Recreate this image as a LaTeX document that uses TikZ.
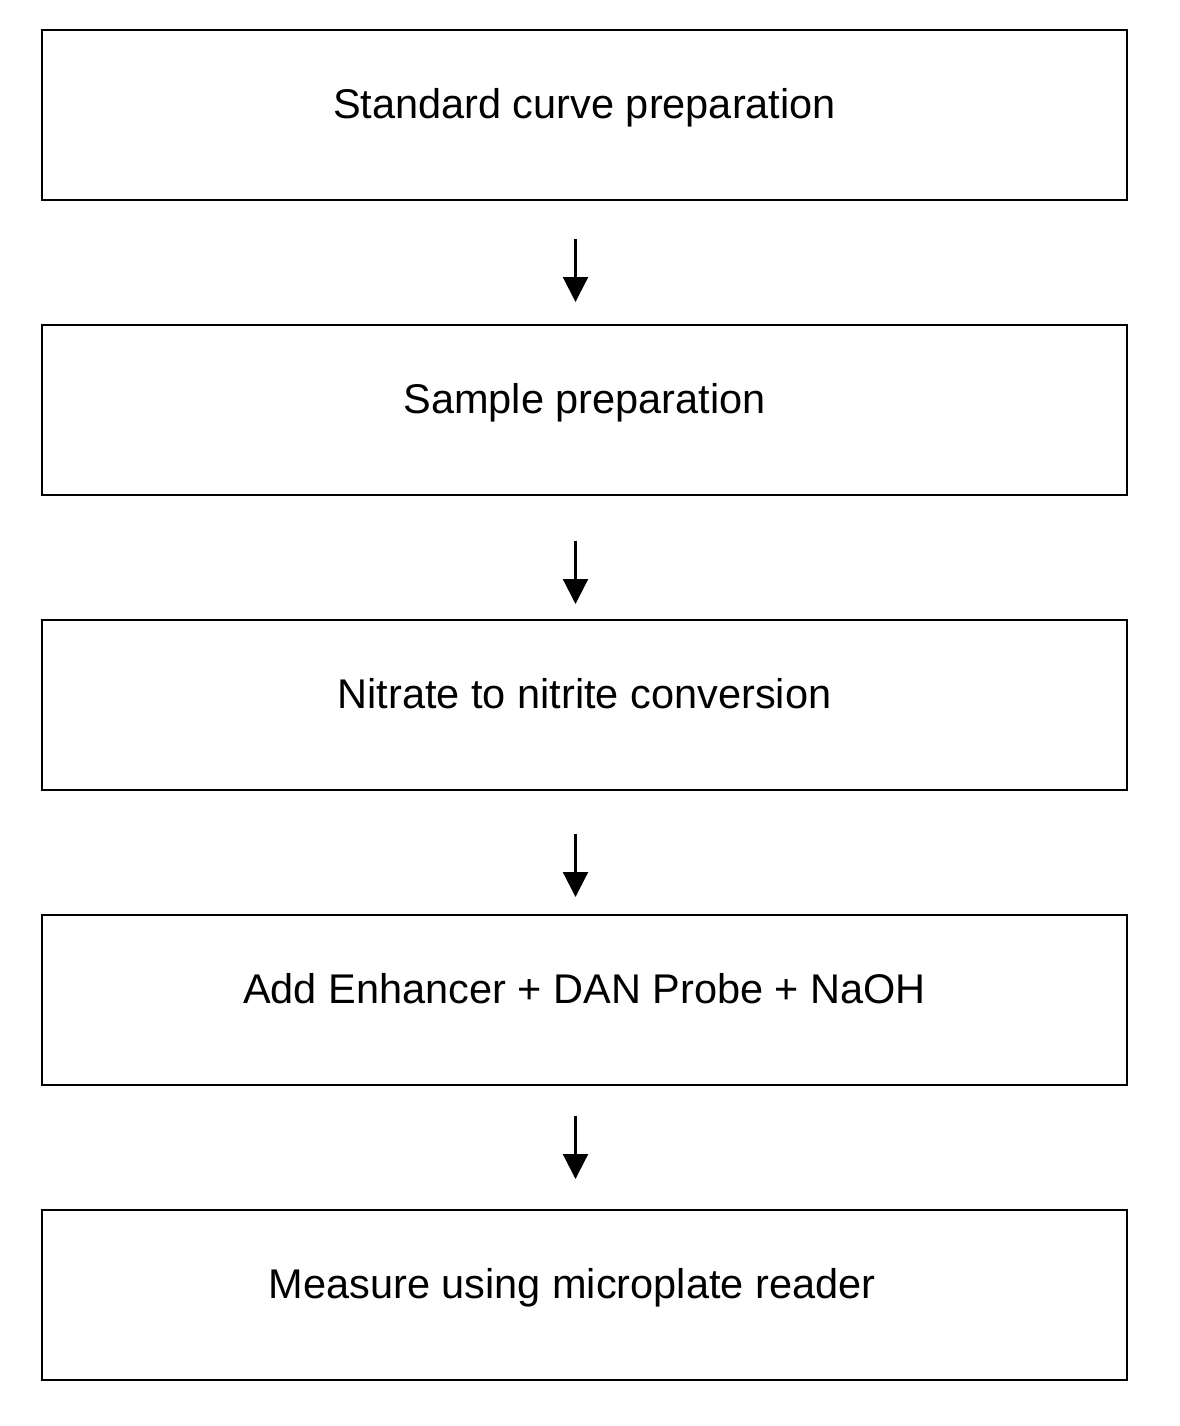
\documentclass[tikz,border=0pt]{standalone}
\usepackage{fontspec}
\setmainfont{Liberation Sans}
\usetikzlibrary{arrows.meta}
\begin{document}
\begin{tikzpicture}[x=1pt,y=-1pt,
  stepbox/.style={draw=black,line width=2pt,rectangle,minimum width=1085pt,minimum height=170pt,inner sep=0pt,fill=white},
  steptext/.style={anchor=base,inner sep=0pt,font=\fontsize{41.5}{50}\selectfont},
  arr/.style={line width=2.2pt,-{Triangle[length=25pt,width=25pt]}}]
\useasboundingbox[fill=white] (0,0) rectangle (1179,1426);
\node[stepbox] (b1) at (584.5,115) {};
\node[stepbox] (b2) at (584.5,410) {};
\node[stepbox] (b3) at (584.5,705) {};
\node[stepbox] (b4) at (584.5,1000) {};
\node[stepbox] (b5) at (584.5,1295) {};
\node[steptext] (t1) at (584.5,118) {Standard curve preparation};
\node[steptext] (t2) at (584.5,413) {Sample preparation};
\node[steptext] (t3) at (584.5,708) {Nitrate to nitrite conversion};
\node[steptext] (t4) at (584.5,1003) {Add Enhancer + DAN Probe + NaOH};
\node[steptext] (t5) at (572,1298) {Measure using microplate reader};
\coordinate (a1s) at (575.5,239);
\coordinate (a1e) at (575.5,302);
\coordinate (a2s) at (575.5,541);
\coordinate (a2e) at (575.5,604);
\coordinate (a3s) at (575.5,834);
\coordinate (a3e) at (575.5,897);
\coordinate (a4s) at (575.5,1116);
\coordinate (a4e) at (575.5,1179);
\draw[arr] (a1s) -- (a1e);
\draw[arr] (a2s) -- (a2e);
\draw[arr] (a3s) -- (a3e);
\draw[arr] (a4s) -- (a4e);
\end{tikzpicture}
\end{document}
